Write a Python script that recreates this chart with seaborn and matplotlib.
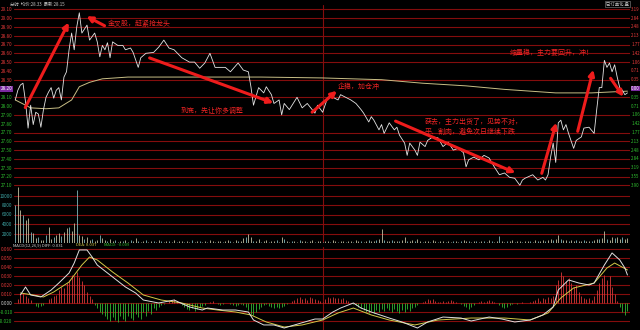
import matplotlib
matplotlib.use("Agg")
import matplotlib.pyplot as plt
import seaborn as sns

sns.set_theme(style="dark")
plt.rcParams['font.family'] = ['Noto Sans CJK SC', 'DejaVu Sans']
plt.rcParams['axes.unicode_minus'] = False

# ---------------- data ----------------
prev_close = 28.20
price_step = 0.10
grid_steps = [9, 8, 7, 6, 5, 4, 3, 1, -1, -3, -5, -6, -7, -8, -9, -10, -11]
label_steps = list(range(9, -12, -1))

price_time = [0, 1, 2, 3, 4, 5, 6, 7, 8, 9,
              10, 11, 12, 13, 14, 15, 16, 17, 18, 19,
              20, 21, 22, 23, 24, 25, 26, 28, 29, 31,
              32, 33, 34, 35, 36, 37, 38, 40, 42, 43,
              45, 46, 48, 49, 51, 54, 56, 58, 60, 62,
              65, 68, 70, 72, 74, 76, 78, 82, 84, 87,
              89, 91, 92, 93, 95, 97, 98, 100, 101, 103,
              104, 105, 107, 110, 112, 114, 117, 118, 120, 122,
              124, 126, 127, 129, 131, 133, 135, 136, 138, 139,
              140, 142, 143, 144, 145, 146, 148, 149, 150, 152,
              153, 154, 156, 157, 158, 160, 161, 163, 165, 167,
              169, 171, 173, 175, 176, 177, 179, 181, 183, 185,
              187, 189, 191, 193, 195, 197, 198, 199, 202, 204,
              206, 207, 208, 209, 210, 211, 212, 213, 214, 215,
              216, 218, 219, 221, 222, 224, 226, 227, 228, 229,
              230, 231, 232, 233, 234, 235, 236, 237, 238, 239]
price = [28.07, 28.18, 28.24, 28.26, 28.05, 27.75, 28.01, 27.79, 27.93, 27.91,
         27.76, 27.96, 28.10, 28.16, 28.21, 28.09, 28.18, 28.21, 28.07, 28.33,
         28.39, 28.64, 28.83, 28.64, 28.90, 29.06, 28.83, 28.92, 28.75, 28.83,
         28.73, 28.56, 28.69, 28.64, 28.72, 28.55, 28.73, 28.69, 28.69, 28.64,
         28.66, 28.61, 28.44, 28.55, 28.60, 28.61, 28.67, 28.75, 28.66, 28.64,
         28.55, 28.50, 28.50, 28.43, 28.49, 28.60, 28.44, 28.44, 28.39, 28.49,
         28.41, 28.39, 28.22, 28.01, 28.21, 28.15, 28.22, 28.13, 28.03, 28.07,
         27.90, 28.03, 27.96, 28.10, 27.98, 28.03, 27.92, 28.01, 27.93, 28.10,
         28.10, 28.07, 28.13, 28.10, 28.07, 28.03, 27.96, 27.92, 27.82, 27.88,
         27.84, 27.73, 27.79, 27.69, 27.75, 27.81, 27.73, 27.76, 27.67, 27.58,
         27.44, 27.58, 27.50, 27.44, 27.59, 27.54, 27.61, 27.65, 27.64, 27.54,
         27.59, 27.50, 27.52, 27.47, 27.31, 27.39, 27.42, 27.39, 27.44, 27.41,
         27.31, 27.22, 27.24, 27.19, 27.18, 27.10, 27.16, 27.18, 27.22, 27.16,
         27.19, 27.16, 27.22, 27.42, 27.58, 27.36, 27.81, 27.84, 27.73, 27.79,
         27.69, 27.52, 27.61, 27.65, 27.75, 27.76, 27.69, 27.96, 28.21, 28.21,
         28.52, 28.44, 28.49, 28.39, 28.47, 28.33, 28.21, 28.18, 28.13, 28.15]

avg_time = [0, 6, 12, 17, 22, 25, 29, 34, 44, 73, 96, 120, 143, 159, 176, 191, 211, 225, 239]
avg_price = [28.07, 27.98, 27.97, 27.98, 28.07, 28.22, 28.27, 28.31, 28.33, 28.33,
             28.33, 28.32, 28.30, 28.26, 28.23, 28.19, 28.15, 28.15, 28.17]

volume = [8000, 11800, 6900, 5900, 4800, 5300, 2300, 2100, 1000, 1300,
          600, 700, 1700, 3400, 900, 1300, 1700, 2100, 1500, 2300,
          3200, 3400, 2600, 4200, 11200, 1700, 1500, 900, 1300, 600,
          800, 500, 700, 1700, 1100, 600, 400, 800, 500, 700,
          300, 500, 400, 600, 300, 700, 400, 1100, 500, 300,
          400, 600, 300, 500, 400, 300, 700, 400, 300, 500,
          400, 300, 600, 300, 400, 500, 300, 400, 300, 600,
          300, 400, 500, 300, 400, 300, 600, 400, 300, 500,
          400, 300, 500, 700, 400, 300, 600, 400, 500, 1100,
          1300, 1900, 1200, 500, 400, 800, 300, 400, 600, 300,
          500, 400, 700, 300, 1300, 800, 400, 300, 500, 400,
          300, 600, 400, 500, 300, 400, 600, 300, 500, 400,
          300, 500, 400, 300, 600, 400, 300, 500, 400, 300,
          500, 400, 300, 600, 400, 500, 300, 400, 700, 500,
          400, 600, 800, 2900, 700, 500, 400, 600, 500, 400,
          500, 700, 1300, 500, 400, 600, 500, 800, 400, 300,
          500, 400, 300, 600, 400, 300, 500, 400, 300, 400,
          300, 500, 400, 300, 400, 600, 500, 400, 300, 400,
          400, 300, 500, 400, 300, 600, 400, 300, 500, 1500,
          400, 300, 500, 400, 600, 300, 400, 500, 300, 400,
          500, 400, 300, 600, 400, 500, 700, 400, 600, 800,
          700, 900, 1700, 800, 600, 700, 500, 600, 400, 700,
          500, 400, 600, 500, 400, 500, 600, 800, 900, 1100,
          2500, 900, 700, 1300, 1000, 1200, 900, 1300, 800, 1100]

dif_time = [2, 4, 6, 10, 14, 17, 21, 23, 25, 28,
            30, 32, 38, 43, 47, 50, 56, 62, 68, 73,
            75, 81, 86, 91, 93, 97, 101, 105, 109, 113,
            117, 120, 124, 127, 132, 135, 139, 146, 151, 157,
            161, 167, 174, 178, 185, 190, 195, 201, 206, 210,
            212, 216, 220, 224, 226, 230, 233, 236, 238, 239]
dif = [0.0089, 0.0178, 0.0089, 0.0067, 0.0144, 0.0222, 0.0333, 0.0444, 0.0589, 0.0589,
       0.0511, 0.0422, 0.0289, 0.0178, 0.0111, 0.0033, 0.0000, 0.0033, -0.0044, -0.0078,
       -0.0056, -0.0078, -0.0078, -0.0100, -0.0189, -0.0244, -0.0244, -0.0278, -0.0244, -0.0211,
       -0.0178, -0.0178, -0.0100, -0.0056, 0.0000, -0.0056, -0.0100, -0.0167, -0.0211, -0.0278,
       -0.0211, -0.0156, -0.0167, -0.0200, -0.0156, -0.0178, -0.0211, -0.0189, -0.0133, -0.0044,
       0.0144, 0.0256, 0.0222, 0.0200, 0.0222, 0.0422, 0.0556, 0.0478, 0.0389, 0.0311]

dea_time = [2, 7, 11, 15, 21, 26, 29, 32, 38, 44,
            50, 57, 65, 73, 79, 86, 92, 98, 105, 112,
            120, 126, 132, 139, 146, 156, 165, 178, 191, 201,
            208, 213, 218, 226, 231, 234, 239]
dea = [0.0111, 0.0089, 0.0067, 0.0122, 0.0233, 0.0422, 0.0511, 0.0478, 0.0344, 0.0222,
       0.0089, 0.0033, 0.0000, -0.0056, -0.0078, -0.0100, -0.0133, -0.0211, -0.0267, -0.0244,
       -0.0189, -0.0111, -0.0056, -0.0133, -0.0189, -0.0244, -0.0189, -0.0167, -0.0167, -0.0189,
       -0.0111, 0.0056, 0.0167, 0.0222, 0.0389, 0.0444, 0.0367]

macd_milli = [0, 4, 9, 11, 8, 6, 3, 0, -3, -4,
              -3, -2, 0, 4, 6, 8, 9, 14, 18, 17,
              22, 26, 31, 30, 34, 29, 24, 20, 12, 8,
              4, -2, -6, -10, -12, -15, -18, -20, -16, -19,
              -21, -14, -18, -20, -15, -17, -19, -12, -16, -18,
              -10, -14, -9, -12, -6, -8, -4, -2, -1, 0,
              2, 3, 4, 2, 0, -2, -5, -7, -8, -6,
              -9, -7, -5, -3, -2, 0, 1, 2, 0, -1,
              -2, -1, 0, 0, -1, -2, -3, -2, -1, -2,
              -4, -8, -12, -13, -10, -7, -4, -2, -1, -3,
              -5, -6, -4, -6, -5, -3, -1, 0, 2, 3,
              5, 7, 4, 6, 3, 7, 5, 4, 3, 2,
              1, 4, 7, 6, 7, 5, 6, 4, 5, 3,
              2, 0, -1, -2, -4, -6, -8, -10, -11, -9,
              -11, -8, -10, -7, -9, -6, -8, -10, -7, -9,
              -11, -8, -10, -7, -9, -6, -4, -2, 0, 1,
              2, 4, 3, 4, 2, 1, 1, 2, 1, 2,
              3, 2, 1, 0, -1, -3, -5, -7, -5, -2,
              0, 1, 2, 1, 2, 3, 2, 1, 0, -2,
              -5, -6, -4, -2, -1, 0, -1, 0, 1, 0,
              0, 1, 2, 3, 5, 2, 6, 4, 7, 5,
              8, 20, 26, 34, 30, 24, 28, 22, 18, 20,
              12, 8, 5, 4, 6, 3, 8, 14, 22, 28,
              31, 26, 30, 18, 10, 2, -4, -10, -13, -9]

vol_levels = [2000, 4000, 6000, 8000, 10000]
macd_levels = [-0.02, -0.01, 0.0, 0.01, 0.02, 0.03, 0.04, 0.05, 0.06]

annotations = [
    ("金叉股，赶紧抢龙头", 108, 24),
    ("到底，先让你多调整", 181, 111),
    ("企稳，加仓冲", 338, 87),
    ("获去，主力出货了，见势不对，", 425, 122),
    ("平、割肉，避免次日继续下跌", 425, 132),
    ("缩量稳，主力要回升，冲！", 510, 53),
]
arrows = [((24, 110), (70, 20)), ((107, 27), (84, 15)), ((147, 57), (276, 104)),
          ((310, 114), (339, 89)), ((393, 120), (518, 174)), ((541, 176), (557, 120)),
          ((577, 134), (594, 67)), ((609, 76), (625, 99))]

# ---------------- drawing ----------------
W, H = 640, 330
LEFT, RIGHT = 14, 630
GRID = '#840d0d'
RED = '#e83a3a'
GREEN = '#2fbf2f'

fig = plt.figure(figsize=(W / 100, H / 100), dpi=100, facecolor='black')


def rect(top, bottom):
    return [LEFT / W, 1 - bottom / H, (RIGHT - LEFT) / W, (bottom - top) / H]


def fpt(x, y):
    return (x / W, 1 - y / H)


ax = fig.add_axes(rect(5, 186.5))
axv = fig.add_axes(rect(186.5, 243))
axm = fig.add_axes(rect(247, 330))

for a in (ax, axv, axm):
    a.set_facecolor('black')
    a.set_xlim(-0.5, 240)
    for s in a.spines.values():
        s.set_visible(False)
    a.set_xticks([])
    a.grid(False)
    a.axvline(120, color=GRID, lw=0.8, zorder=1)
    a.tick_params(axis='y', length=0, pad=1, labelsize=3.3)
    a.set_xlabel('')
    a.set_ylabel('')

# main price panel
px_per_step = 8.8
ax.set_ylim(prev_close - (186.5 - 88.5) / px_per_step * price_step,
            prev_close + (88.5 - 5) / px_per_step * price_step)
for k in grid_steps:
    ax.axhline(prev_close + k * price_step, color=GRID, lw=0.8, zorder=1)
levels = [prev_close + k * price_step for k in label_steps]
ax.set_yticks(levels)
ax.set_yticklabels([f"{v:.2f}" for v in levels])
for k, lab in zip(label_steps, ax.get_yticklabels()):
    if k > 0:
        lab.set_color(RED)
    elif k < 0:
        lab.set_color(GREEN)
    else:
        lab.set_color('white')
        lab.set_bbox(dict(facecolor='#7a2aa0', edgecolor='none', pad=0.3))
for k, v in zip(label_steps, levels):
    pct = k * price_step / prev_close * 100
    col = RED if k > 0 else (GREEN if k < 0 else 'white')
    t = ax.text(1.002, v, f"{abs(pct):.2f}", transform=ax.get_yaxis_transform(),
                fontsize=3.2, color=col, va='center', ha='left', clip_on=False)
    if k == 0:
        t.set_bbox(dict(facecolor='#7a2aa0', edgecolor='none', pad=0.3))

sns.lineplot(x=avg_time, y=avg_price, ax=ax, color='#c9bf86', lw=0.7, estimator=None, zorder=3)
sns.lineplot(x=price_time, y=price, ax=ax, color='#e4e4e4', lw=0.6, estimator=None, zorder=4)
ax.set_xlabel('')
ax.set_ylabel('')

# volume panel
axv.set_ylim(0, (243 - 186.5) / 9.5 * 2000)
for v in vol_levels:
    axv.axhline(v, color=GRID, lw=0.8, zorder=1)
axv.set_yticks(vol_levels)
axv.set_yticklabels([str(v) for v in vol_levels])
for lab in axv.get_yticklabels():
    lab.set_color('#3fa8a8')
vol_colors = ['#c2c0a2' if i % 3 else '#80b8bc' for i in range(len(volume))]
axv.vlines(range(len(volume)), 0, volume, colors=vol_colors, lw=0.6, zorder=3)

# MACD panel
axm.set_ylim(-0.030, 0.0622)
for v in macd_levels:
    axm.axhline(v, color=GRID, lw=0.8, zorder=1)
axm.set_yticks(macd_levels)
axm.set_yticklabels([f"{v:.3f}" for v in macd_levels])
for v, lab in zip(macd_levels, axm.get_yticklabels()):
    lab.set_color(RED if v > 0 else (GREEN if v < 0 else '#d0d0d0'))
macd_vals = [m / 1000 for m in macd_milli]
bar_cols = ['#d83838' if m >= 0 else '#33b833' for m in macd_vals]
axm.vlines(range(len(macd_vals)), 0, macd_vals, colors=bar_cols, lw=0.6, zorder=2)
sns.lineplot(x=dea_time, y=dea, ax=axm, color='#d2c948', lw=0.7, estimator=None, zorder=3)
sns.lineplot(x=dif_time, y=dif, ax=axm, color='#e0e0e0', lw=0.7, estimator=None, zorder=4)
axm.set_xlabel('')
axm.set_ylabel('')

# header / legends
fig.text(*fpt(10, 4), "分时  均价:28.33  最新:28.15", fontsize=3.2, color='#c8c8c8', va='center')
fig.text(*fpt(606, 4), "已订单化 盘", fontsize=3.2, color='#c8c8c8', va='center',
         bbox=dict(facecolor='black', edgecolor='#8a8a8a', lw=0.4, pad=0.6))
fig.text(*fpt(13, 245), "MACD(12,26,9) DIFF: 0.031", fontsize=3, color='#d0d0d0', va='center')
fig.text(*fpt(76, 245), "DEA: 0.037", fontsize=3, color='#d8cf4a', va='center')
fig.text(*fpt(104, 245), "MACD: -0.009", fontsize=3, color=GREEN, va='center')

# red hand-drawn annotations
for (tail, head) in arrows:
    fig.add_artist(matplotlib.patches.FancyArrowPatch(
        fpt(*tail), fpt(*head), transform=fig.transFigure,
        arrowstyle='-|>', mutation_scale=8, color='#ee1c1c', lw=2.2, zorder=10))
for txt, x, y in annotations:
    fig.text(*fpt(x, y), txt, fontsize=5, color='#f02424', va='center', ha='left', zorder=11)

fig.savefig('out.png', dpi=100, facecolor='black')
